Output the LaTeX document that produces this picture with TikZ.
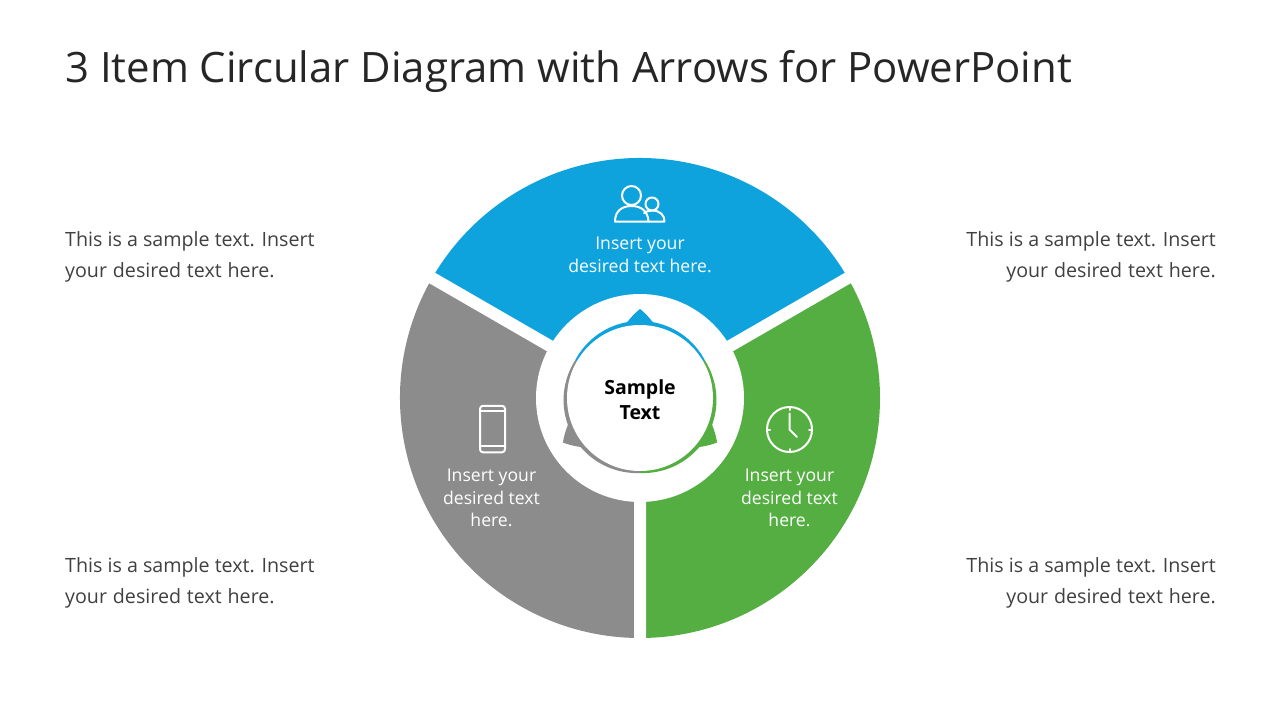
\documentclass[tikz,border=0pt]{standalone}
\usepackage{fontspec}
\setmainfont{Open Sans}
\definecolor{cblue}{HTML}{0FA3DE}
\definecolor{cgray}{HTML}{8C8C8C}
\definecolor{cgreen}{HTML}{54AE41}
\definecolor{ctitle}{HTML}{262626}
\definecolor{cside}{HTML}{404040}
\newcommand{\secondline}{your \kern0.8pt desired \kern0.8pt text \kern0.8pt here.}
\tikzset{
  sidetext/.style={inner sep=0pt,text=cside,font=\fontsize{19.65}{31}\selectfont},
  segtext/.style={inner sep=0pt,text=white,align=center,font=\fontsize{17.6}{22.7}\selectfont},
  icon/.style={draw=white,line width=2pt,line cap=round,line join=round},
}
\begin{document}
\begin{tikzpicture}[x=1pt,y=-1pt]
\useasboundingbox (0,0) rectangle (1280,720);
\node[anchor=base west,inner sep=0pt,text=ctitle,font=\fontsize{41.9}{48}\selectfont] (title) at (65,82) {3 Item Circular Diagram with Arrows for PowerPoint};
\begin{scope}[shift={(640,398)},y=1pt]
  \fill[cblue] (0,0) -- (30:240) arc (30:150:240) -- cycle;
  \fill[cgreen] (0,0) -- (-90:240) arc (-90:30:240) -- cycle;
  \fill[cgray] (0,0) -- (150:240) arc (150:270:240) -- cycle;
  \draw[white,line width=12pt] (0,0) -- (30:250) (0,0) -- (150:250) (0,0) -- (270:250);
  \fill[white] (0,0) circle (104);
  \foreach \c/\m in {cblue/90,cgreen/-30,cgray/210}{
    \fill[\c] plot[domain=-60:60,samples=121] ({\m+\x}:{75+2*cos(1.5*\x)+12*max(0,1-abs(\x)/9.5)}) -- (\m+60:72) arc (\m+60:\m-60:72) -- cycle;
  }
  \fill[white] (0,0) circle (73);
\end{scope}
\node[inner sep=0pt,align=center,text=black,font=\fontsize{19.5}{25}\selectfont\bfseries] (center) at (640,400) {Sample\\Text};
\node[segtext] (tb) at (640,255) {Insert your\\desired text here.};
\node[segtext] (tg) at (491.5,498) {Insert your\\desired text\\here.};
\node[segtext] (tgr) at (789.5,498) {Insert your\\desired text\\here.};
\node[sidetext,align=left,anchor=west] (s1) at (65,257) {This is a sample text. Insert\\\secondline};
\node[sidetext,align=left,anchor=west] (s2) at (65,583) {This is a sample text. Insert\\\secondline};
\node[sidetext,align=right,anchor=east] (s3) at (1216,257) {This is a sample text. Insert\\\secondline};
\node[sidetext,align=right,anchor=east] (s4) at (1216,583) {This is a sample text. Insert\\\secondline};
% people icon
\draw[icon] (631.5,195.5) circle (9.5);
\draw[icon] (652,204) circle (6.5);
\draw[icon] (615,221.5) .. controls (615,211) and (622,206) .. (631.5,206) .. controls (641,206) and (648,211) .. (648.5,221.5) -- cycle;
\draw[icon] (648.5,221.5) -- (664.5,221.5) .. controls (664.5,215) and (660,210.5) .. (652,210.5) .. controls (649,210.5) and (646,211.5) .. (644,213);
% phone icon
\draw[icon,rounded corners=3pt] (480,405.8) rectangle (505,452.3);
\draw[icon] (480,411) -- (505,411) (480,446) -- (505,446);
% clock icon
\draw[icon] (789.5,429.5) circle (22.5);
\draw[icon] (789.5,407) -- (789.5,410) (789.5,452) -- (789.5,449) (767,429.5) -- (770,429.5) (812,429.5) -- (809,429.5);
\draw[icon] (789.5,413.5) -- (789.5,429.5) -- (797,437);
\end{tikzpicture}
\end{document}
